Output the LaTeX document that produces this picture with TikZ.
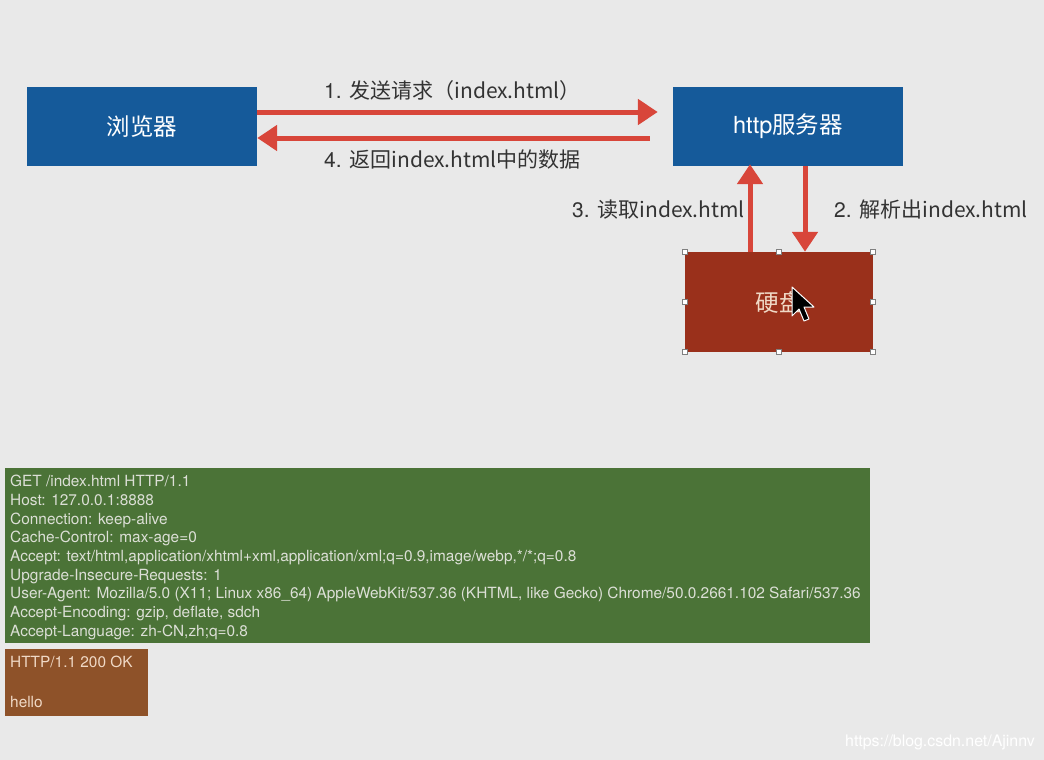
\documentclass[tikz,border=0pt]{standalone}
\usepackage{fontspec}
\setmainfont{TeX Gyre Heros}
\newfontfamily\cjk{Noto Sans CJK SC}
\usetikzlibrary{arrows.meta,calc}
\definecolor{bgc}{HTML}{E9E9E9}
\definecolor{boxblue}{HTML}{155A9A}
\definecolor{diskred}{HTML}{9A301B}
\definecolor{arrred}{HTML}{D8463A}
\definecolor{reqgreen}{HTML}{4B7337}
\definecolor{respbrown}{HTML}{8E5229}
\definecolor{labelgray}{HTML}{333333}
\definecolor{reqtext}{HTML}{DCDFD6}
\definecolor{resptext}{HTML}{F0D9C6}
\tikzset{
  bigbox/.style={rectangle, inner sep=0pt, minimum width=230pt, minimum height=79pt,
    fill=boxblue, text=white, font=\fontsize{23.5}{27}\selectfont},
  redarr/.style={draw=arrred, line width=5pt,
    -{Triangle[width=25pt,length=20pt]}},
  lbl/.style={text=labelgray, font=\fontsize{21}{25}\selectfont, inner sep=0pt},
  handle/.style={rectangle, draw=gray, fill=white, line width=0.5pt,
    minimum size=5pt, inner sep=0pt},
  codetext/.style={inner sep=0pt, align=left, anchor=north west,
    font=\fontsize{15.4}{18.7}\selectfont},
}
\begin{document}
\begin{tikzpicture}[x=1pt,y=-1pt]
\fill[bgc] (0,0) rectangle (1044,760);
\useasboundingbox (0,0) rectangle (1044,760);

% boxes
\node[bigbox] (browser) at (142,126.5) {\cjk{浏览器}};
\node[bigbox] (server) at (788,126.5) {http\cjk{服务器}};
\node[bigbox, fill=diskred, text=resptext, minimum width=188pt, minimum height=100pt] (disk) at (779,302) {\cjk{硬盘}};

% selection handles
\foreach \a [count=\i] in {north west,north,north east,east,south east,south,south west,west}
  \node[handle] (h\i) at (disk.\a) {};

% cursor
\draw[white, line width=1pt, fill=black, line join=round]
  (792,287) -- ++(0,29) -- ++(7,-7) -- ++(5,12) -- ++(5,-2) -- ++(-5,-12) -- ++(10,0) -- cycle;

% horizontal arrows
\draw[redarr] ([yshift=14.5pt]browser.east) -- ([xshift=-15pt,yshift=14.5pt]server.west);
\draw[redarr] ([xshift=-23pt,yshift=-11.5pt]server.west) -- ([yshift=-11.5pt]browser.east);
% vertical arrows
\draw[redarr] ([xshift=-29pt]disk.north) -- ([xshift=-38pt,yshift=2pt]server.south);
\draw[redarr] ([xshift=17pt]server.south) -- ([xshift=26pt]disk.north);

% labels
\node[lbl, anchor=west] (l1) at (324,91) {1. \cjk{发送请求（}index.html\cjk{）}};
\node[lbl, anchor=west] (l4) at (324,160) {4. \cjk{返回}index.html\cjk{中的数据}};
\node[lbl, anchor=east] (l3) at (745,210) {3. \cjk{读取}index.html};
\node[lbl, anchor=west] (l2) at (834,210) {2. \cjk{解析出}index.html};

% request box
\node[rectangle, fill=reqgreen, inner sep=0pt, minimum width=865pt, minimum height=175pt, anchor=north west] (req) at (5,468) {};
\node[codetext, text=reqtext] (reqtxt) at (10,475) {GET /index.html HTTP/1.1\\
Host: 127.0.0.1:8888\\
Connection: keep-alive\\
Cache-Control: max-age=0\\
Accept: text/html,application/xhtml+xml,application/xml;q=0.9,image/webp,*/*;q=0.8\\
Upgrade-Insecure-Requests: 1\\
User-Agent: Mozilla/5.0 (X11; Linux x86\_64) AppleWebKit/537.36 (KHTML, like Gecko) Chrome/50.0.2661.102 Safari/537.36\\
Accept-Encoding: gzip, deflate, sdch\\
Accept-Language: zh-CN,zh;q=0.8};

% response box
\node[rectangle, fill=respbrown, inner sep=0pt, minimum width=143pt, minimum height=67pt, anchor=north west] (resp) at (5,649) {};
\node[codetext, text=resptext] (resptxt) at (10,656) {HTTP/1.1 200 OK\\[21pt]hello};

% watermark
\node[inner sep=0pt, anchor=west, text=white, font=\fontsize{15.9}{18}\selectfont] (wm) at (845,742) {https://blog.csdn.net/Ajinnv};
\end{tikzpicture}
\end{document}
